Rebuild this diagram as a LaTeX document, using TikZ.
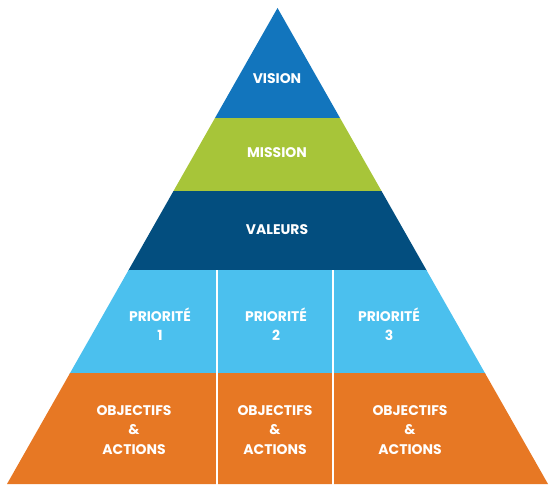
\documentclass[tikz,border=0pt]{standalone}
\usepackage{fontspec}
\setmainfont{Poppins}
\usepackage{tikz}
\usepackage{xcolor}
\usetikzlibrary{positioning,calc}
\definecolor{visionblue}{HTML}{1275BD}
\definecolor{missiongreen}{HTML}{A7C539}
\definecolor{valeursblue}{HTML}{034E7F}
\definecolor{prioblue}{HTML}{4BC0EE}
\definecolor{objorange}{HTML}{E77824}
\tikzset{
  bandlabel/.style={text=white,align=center,inner sep=0pt,
                    font=\fontsize{14}{19.5}\selectfont\bfseries},
  divider/.style={draw=white,line width=2.2bp}
}

\begin{document}
\begin{tikzpicture}[x=1bp,y=-1bp]
  \useasboundingbox (0,0) rectangle (555,493);
  \coordinate (apex) at (277.5,8);
  \coordinate (baseL) at (7,484);
  \coordinate (baseR) at (548,484);
  % bands, cut to the triangle
  \begin{scope}
    \clip (apex) -- (baseL) -- (baseR) -- cycle;
    \fill[visionblue]   (0,0)   rectangle (555,118.5);
    \fill[missiongreen] (0,118) rectangle (555,191.5);
    \fill[valeursblue]  (0,191) rectangle (555,270.5);
    \fill[prioblue]     (0,270) rectangle (555,373.5);
    \fill[objorange]    (0,373) rectangle (555,485);
  \end{scope}
  \draw[divider] (217,270) -- (217,485);
  \draw[divider] (333,270) -- (333,485);
  % labels
  \node[bandlabel] (vision) at (277,79) {VISION};
  \node[bandlabel] (mission) at (277,153) {MISSION};
  \node[bandlabel] (valeurs) at (277,230) {VALEURS};
  \node[bandlabel] (prio1) at (160,324) {PRIORITÉ\\1};
  \node[bandlabel] (prio2) at (276,324) {PRIORITÉ\\2};
  \node[bandlabel] (prio3) at (389,324) {PRIORITÉ\\3};
  \node[bandlabel] (obj1) at (134,430) {OBJECTIFS\\\&\\ACTIONS};
  \node[bandlabel] (obj2) at (275,430) {OBJECTIFS\\\&\\ACTIONS};
  \node[bandlabel] (obj3) at (410,430) {OBJECTIFS\\\&\\ACTIONS};
\end{tikzpicture}
\end{document}
